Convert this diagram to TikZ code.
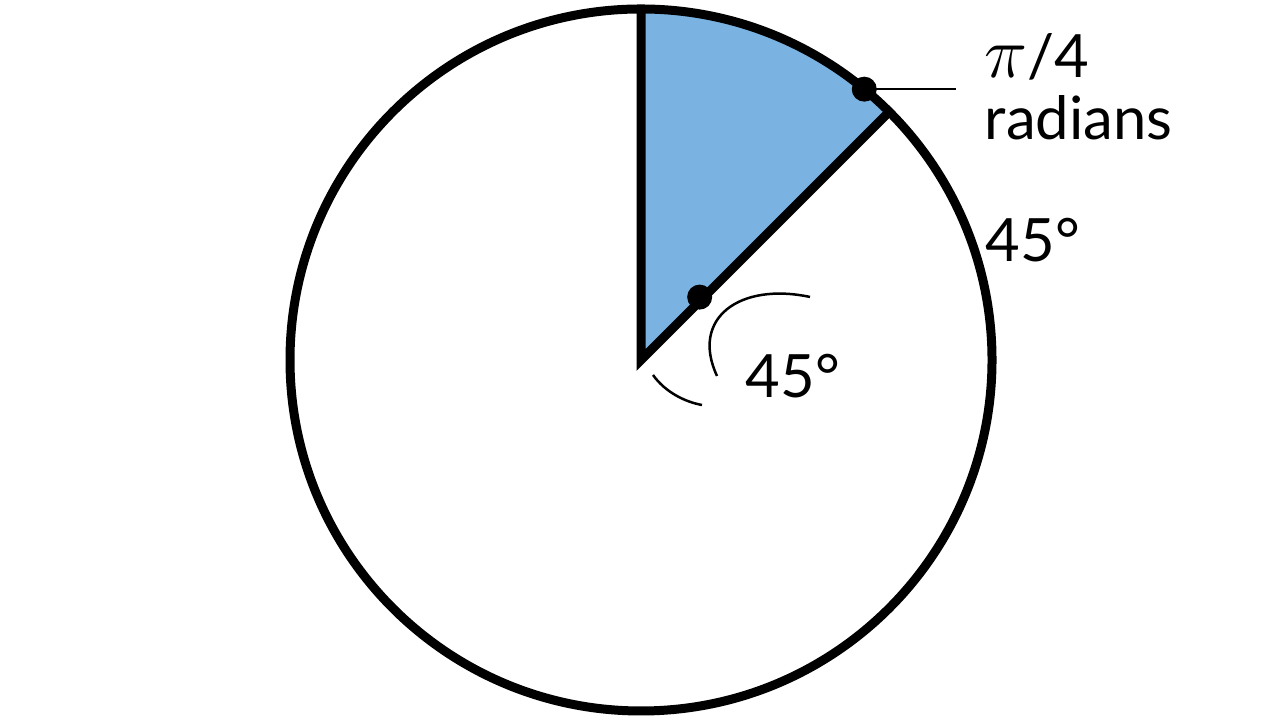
\documentclass[tikz,border=0pt]{standalone}
\usepackage{fontspec}
\setmainfont{Lato}
\usetikzlibrary{positioning}
\definecolor{sectorblue}{HTML}{7AB3E1}
\tikzset{borde/.style={line width=0.9mm},
         marca/.style={line width=0.25mm},
         punto/.style={circle,fill=black,inner sep=0pt,minimum size=2.5mm},
         etiqueta/.style={inner sep=0pt,font=\fontsize{17}{20}\selectfont}}

\begin{document}
\begin{tikzpicture}
\useasboundingbox (0,0) rectangle (12.8,7.2);
\begin{scope}[shift={(6.41,3.60)}]
            \coordinate (O) at (0,0);
            \coordinate (A) at (90:3.51);
            \coordinate (B) at (45:3.51);

            \fill[sectorblue] (O) -- (A) arc (90:45:3.51) -- cycle;
            \draw[borde] (O) circle (3.51);
            \draw[borde, line join=miter] (A) -- (O) -- (B);

            \node[punto] (p1) at (50.5:3.51) {};
            \node[punto] (p2) at (47:0.86) {};
            \coordinate (q) at ([xshift=0.92cm]p1.center);
            \draw[marca] (p1.center) -- (q);

            % angle marks
            \draw[marca] (0.12,-0.15) .. controls (0.24,-0.32) and (0.44,-0.42) .. (0.61,-0.45);
            \draw[marca] (1.69,0.63) .. controls (0.99,0.78) and (0.49,0.42) .. (0.76,-0.16);

            \node[etiqueta, anchor=base west] (pi) at (3.43,2.82) {\fontsize{20}{20}\selectfont$\pi$\fontsize{17}{20}\selectfont/4};
            \node[etiqueta, anchor=base west] (rad) at (3.43,2.20) {radians};
            \node[etiqueta, anchor=base west] (arco) at (3.44,0.98) {45°};
            \node[etiqueta, anchor=base west] (ang) at (1.04,-0.38) {45°};
\end{scope}
\end{tikzpicture}
\end{document}
